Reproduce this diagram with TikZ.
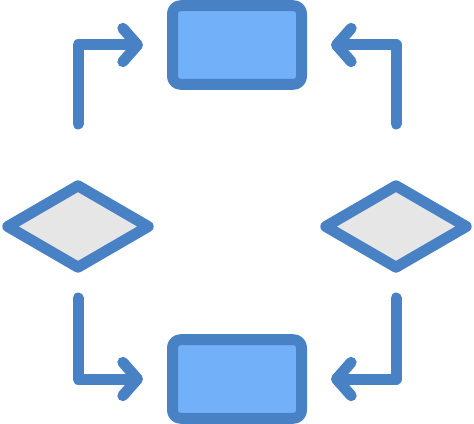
\documentclass[tikz,border=0pt]{standalone}
\usepackage{tikz}
\usetikzlibrary{shapes.geometric,arrows.meta}
\definecolor{edgeblue}{RGB}{72,130,196}
\definecolor{boxblue}{RGB}{114,177,250}
\definecolor{diagray}{RGB}{230,230,230}

\begin{document}
\begin{tikzpicture}[x=0.75pt,y=0.75pt,yscale=-1,xscale=1,
    line width=8.25pt, line join=round, line cap=round,
    procbox/.style={draw=edgeblue, fill=boxblue, rectangle, rounded corners=6pt,
        minimum width=96.75pt, minimum height=58.9pt, inner sep=0pt},
    choice/.style={draw=edgeblue, fill=diagray, diamond, line join=round,
        minimum width=108.75pt, minimum height=64.5pt, inner sep=0pt},
    flow/.style={draw=edgeblue, -{Straight Barb[length=11pt, width=25pt, round]}}]
        %set diagram size
        \useasboundingbox (0,0) rectangle (474,424);

        %Boxes
        \node [procbox] (top) at (237,45) {};
        \node [procbox] (bottom) at (237,379) {};

        %Diamonds
        \node [choice] (left) at (78,226.5) {};
        \node [choice] (right) at (396,226.5) {};

        %Arrow starts
        \coordinate (tlstart) at (78,124);
        \coordinate (trstart) at (396,124);
        \coordinate (blstart) at (78,298);
        \coordinate (brstart) at (396,298);

        %Arrows
        \draw [flow] (tlstart) |- ([xshift=-18pt]top.west);
        \draw [flow] (trstart) |- ([xshift=18pt]top.east);
        \draw [flow] (blstart) |- ([xshift=-18pt]bottom.west);
        \draw [flow] (brstart) |- ([xshift=18pt]bottom.east);

\end{tikzpicture}
\end{document}
